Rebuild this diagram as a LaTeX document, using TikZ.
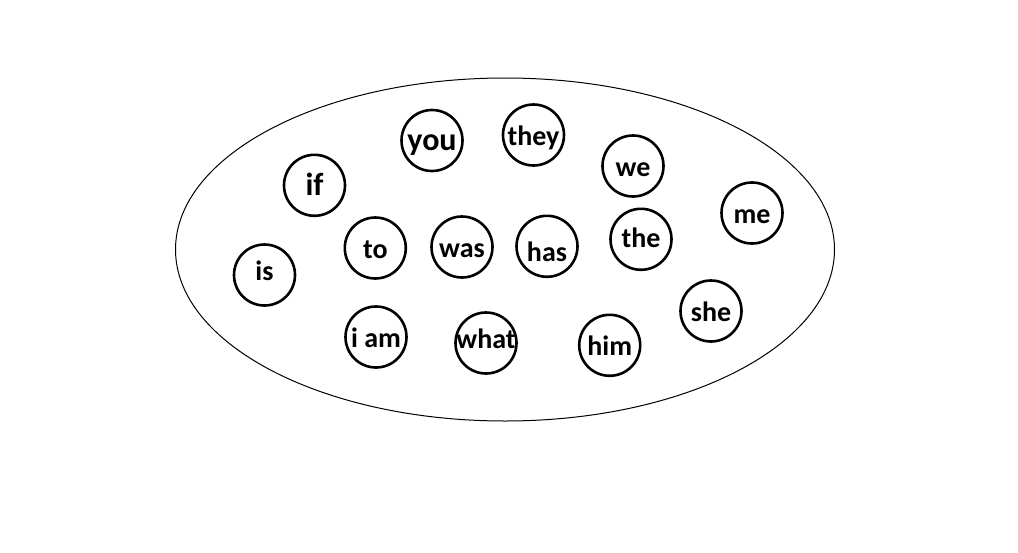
\documentclass[tikz,border=0pt]{standalone}
\usepackage{fontspec}
\setmainfont{Carlito}
\begin{document}
\begin{tikzpicture}[x=1pt,y=-1pt,word node/.style={circle,draw,line width=2.6pt,font=\fontsize{28}{28}\selectfont\bfseries, inner sep=0pt, minimum size=61pt, text height=20pt, text depth=0pt}, big node/.style={word node,font=\fontsize{32}{32}\selectfont\bfseries}]
  \useasboundingbox (0,0) rectangle (1018,552);

  \draw[line width=1pt] (505,249.5) ellipse [x radius=329.5pt, y radius=171.5pt];

  \node[big node] (you) at (432,140.5) {you};
  \node[word node] (they) at (533.5,135) {they};
  \node[word node] (we) at (633,166) {we};
  \node[big node] (if) at (314.5,185.3) {if};
  \node[word node] (me) at (752,213) {me};
  \node[word node, text height=10pt] (is) at (264.5,275) {is};
  \node[word node] (to) at (375.3,248) {to};
  \node[word node] (was) at (462,247) {was};
  \node[word node, text height=30pt] (has) at (547,246.3) {has};
  \node[word node, text height=17pt] (the) at (641,239.3) {the};
  \node[word node] (she) at (711,311) {she};
  \node[word node] (iam) at (376,337) {i am};
  \node[word node, text height=10pt] (what) at (486,343) {what};
  \node[word node] (him) at (609.7,345.3) {him};
\end{tikzpicture}
\end{document}
